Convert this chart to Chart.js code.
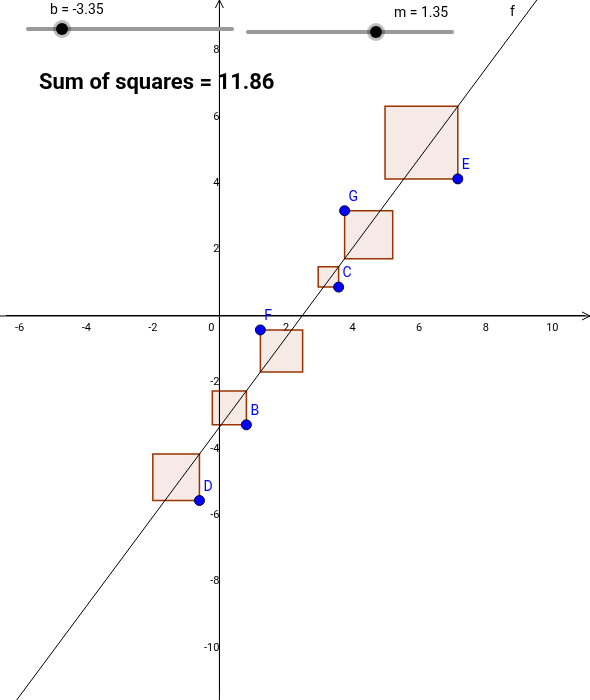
<!DOCTYPE html>
<html><head><meta charset="utf-8">
<script src="https://cdn.jsdelivr.net/npm/chart.js"></script>
<style>body{margin:0;background:#fff}</style>
</head><body>
<canvas id="c" width="590" height="700"></canvas>
<script>
const pointNames = ['D','B','F','C','G','E'];
const pointX = [-0.6, 0.81, 1.23, 3.58, 3.76, 7.16];
const pointY = [-5.56, -3.28, -0.42, 0.87, 3.17, 4.13];
const slope = 1.35;
const intercept = -3.35;
const xRange = [-6.41, 10.95];
const yRange = [-11.31, 9.26];
const xTicks = [-6, -4, -2, 0, 2, 4, 6, 8, 10];
const yTicks = [-10, -8, -6, -4, -2, 2, 4, 6, 8];

const lineAt = x => slope * x + intercept;
let sum = 0;
const squares = pointX.map((x, i) => {
  const y = pointY[i], yh = lineAt(x), r = yh - y;
  sum += r * r;
  return {type:'line', data:[{x:x,y:y},{x:x-r,y:y},{x:x-r,y:yh},{x:x,y:yh},{x:x,y:y}],
    borderColor:'#993300', borderWidth:1.5, backgroundColor:'rgba(153,51,0,0.1)', fill:'shape',
    pointRadius:0, tension:0, order:3};
});
const datasets = squares.concat([
  {type:'line', data:[{x:-7,y:lineAt(-7)},{x:12,y:lineAt(12)}], clip:false,
   borderColor:'#000', borderWidth:1, pointRadius:0, order:2},
  {type:'scatter', data:pointX.map((x,i)=>({x:x,y:pointY[i]})), backgroundColor:'#0000ff',
   borderColor:'#000033', borderWidth:1, pointRadius:5, order:1}
]);

const overlay = {
  id:'overlay',
  afterDraw(chart){
    const ctx = chart.ctx, xs = chart.scales.x, ys = chart.scales.y;
    const ox = xs.getPixelForValue(0), oy = ys.getPixelForValue(0);
    ctx.save();
    ctx.strokeStyle='#000'; ctx.lineWidth=1;
    ctx.beginPath();
    ctx.moveTo(ox,700); ctx.lineTo(ox,0);
    ctx.moveTo(ox-4,8); ctx.lineTo(ox,0); ctx.lineTo(ox+4,8);
    ctx.moveTo(0,oy); ctx.lineTo(590,oy);
    ctx.moveTo(582,oy-4); ctx.lineTo(590,oy); ctx.lineTo(582,oy+4);
    ctx.stroke();
    ctx.fillStyle='#0000ff'; ctx.font='14px Roboto, sans-serif';
    pointX.forEach((x,i)=>{
      ctx.fillText(pointNames[i], xs.getPixelForValue(x)+4, ys.getPixelForValue(pointY[i])-10);
    });
    ctx.fillStyle='#000';
    ctx.fillText('f', 510, 16);
    const slider=(x1,x2,y,kx,label,lx,ly)=>{
      ctx.strokeStyle='#999'; ctx.lineWidth=4; ctx.lineCap='round';
      ctx.beginPath(); ctx.moveTo(x1,y); ctx.lineTo(x2,y); ctx.stroke();
      ctx.fillStyle='rgba(0,0,0,0.25)'; ctx.beginPath(); ctx.arc(kx,y,9,0,Math.PI*2); ctx.fill();
      ctx.fillStyle='#000'; ctx.beginPath(); ctx.arc(kx,y,6,0,Math.PI*2); ctx.fill();
      ctx.font='14px Roboto, sans-serif'; ctx.fillText(label,lx,ly);
    };
    slider(28,232,29,62,'b = '+intercept.toFixed(2),50,14);
    slider(248,452,32,376,'m = '+slope.toFixed(2),394,17);
    ctx.font='bold 22px Roboto, sans-serif'; ctx.fillStyle='#000';
    ctx.fillText('Sum of squares = '+sum.toFixed(2), 39, 89);
    ctx.restore();
  }
};

new Chart(document.getElementById('c'), {
  data:{datasets},
  options:{
    responsive:false, animation:false,
    layout:{padding:0},
    plugins:{legend:{display:false}, tooltip:{enabled:false}},
    scales:{
      x:{type:'linear', min:xRange[0], max:xRange[1], position:{y:0},
        afterBuildTicks:s=>{ s.ticks = xTicks.map(v=>({value:v})); },
        grid:{display:false, tickLength:4}, border:{color:'#000'},
        ticks:{autoSkip:false, maxRotation:0, color:'#000', font:{size:11, family:'Roboto'}, padding:2,
          callback:v=> v===0 ? '0      ' : ''+v}},
      y:{type:'linear', min:yRange[0], max:yRange[1], position:{x:0},
        afterBuildTicks:s=>{ s.ticks = yTicks.map(v=>({value:v})); },
        grid:{display:false, tickLength:4}, border:{color:'#000'},
        ticks:{autoSkip:false, color:'#000', font:{size:11, family:'Roboto'}, padding:2,
          callback:v=>''+v}}
    }
  },
  plugins:[overlay]
});
</script>
</body></html>
